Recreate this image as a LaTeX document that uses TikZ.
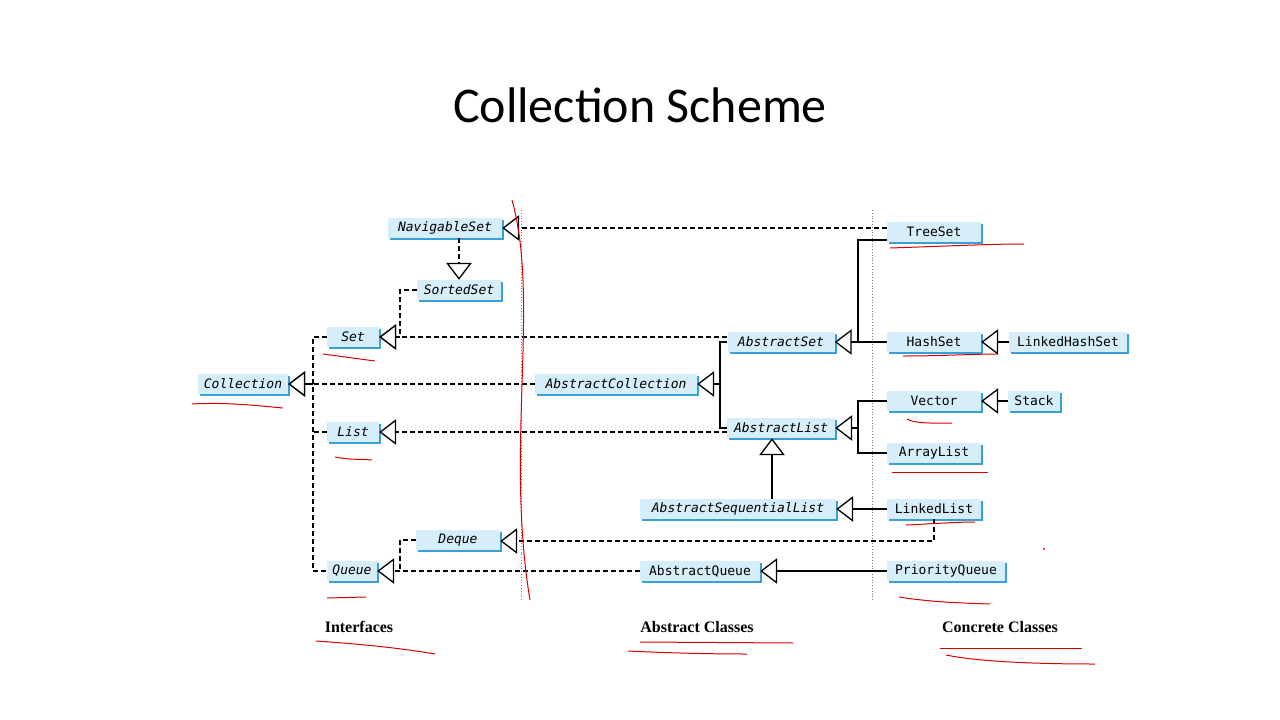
\documentclass[tikz,border=0pt]{standalone}
\usepackage{fontspec}
\setmainfont{Liberation Serif}
\newfontfamily\titlefont{Carlito}
\newfontfamily\boxfont{DejaVu Sans Mono}
\usetikzlibrary{arrows.meta,shadows}
\definecolor{boxfill}{HTML}{D6EEF9}
\definecolor{boxshadow}{HTML}{3A9FD6}
\begin{document}
\begin{tikzpicture}[x=1pt,y=-1pt,
  cls/.style={fill=boxfill,inner sep=0pt,minimum height=20pt,font=\boxfont\fontsize{13}{13}\selectfont,
     drop shadow={shadow xshift=2pt,shadow yshift=-2pt,fill=boxshadow,opacity=1}},
  ifc/.style={cls,font=\boxfont\itshape\fontsize{13}{13}\selectfont},
  tri/.style={-{Triangle[open,width=15pt,length=10pt,line width=1.3pt,fill=white,scale=1.7]}},
  dsh/.style={tri,dashed,dash pattern=on 5pt off 3pt,line width=1.1pt},
  sol/.style={tri,line width=1.3pt},
  dl/.style={dashed,dash pattern=on 5pt off 3pt,line width=1.1pt},
  sl/.style={line width=1.3pt},
  red/.style={draw=red!85!black,line width=1pt},
  lab/.style={font=\bfseries\fontsize{16}{16}\selectfont}]
\useasboundingbox (0,0) rectangle (1280,720);
\fill[white] (0,0) rectangle (1280,720);
\node (title) at (640,105) {\titlefont\fontsize{50}{50}\selectfont Collection Scheme};
% dotted separators
\draw[dotted,line width=0.8pt,gray] (521,210) -- (521,600);
\draw[dotted,line width=0.8pt,gray] (872,210) -- (872,600);
% nodes
\node[ifc,minimum width=114pt] (nav) at (445,228) {NavigableSet};
\node[ifc,minimum width=84pt] (sorted) at (459,290) {SortedSet};
\node[ifc,minimum width=52pt] (set) at (353,337) {Set};
\node[ifc,minimum width=90pt] (coll) at (243,384) {Collection};
\node[ifc,minimum width=52pt] (list) at (353,432) {List};
\node[ifc,minimum width=84pt] (deque) at (458,540) {Deque};
\node[ifc,minimum width=50pt] (queue) at (352,571) {Queue};
\node[ifc,minimum width=162pt] (acoll) at (616,384) {AbstractCollection};
\node[ifc,minimum width=107pt] (aset) at (781,342) {AbstractSet};
\node[ifc,minimum width=108pt] (alist) at (781,428) {AbstractList};
\node[ifc,minimum width=196pt] (aseq) at (738,509) {AbstractSequentialList};
\node[cls,minimum width=120pt] (aqueue) at (700,571) {AbstractQueue};
\node[cls,minimum width=94pt] (tree) at (934,232) {TreeSet};
\node[cls,minimum width=94pt] (hash) at (934,342) {HashSet};
\node[cls,minimum width=118pt] (lhash) at (1068,342) {LinkedHashSet};
\node[cls,minimum width=94pt] (vector) at (934,401) {Vector};
\node[cls,minimum width=52pt] (stack) at (1034,401) {Stack};
\node[cls,minimum width=94pt] (alst) at (934,453) {ArrayList};
\node[cls,minimum width=94pt] (llist) at (934,509) {LinkedList};
\node[cls,minimum width=118pt] (pq) at (946,571) {PriorityQueue};
% connectors
\draw[dsh] (tree.west |- nav.east) -- (nav.east);
\draw[dsh] (nav.south -| sorted) -- (sorted.north);
\draw[dsh] (sorted.west) -- (400,290) -- (400,337) -- (set.east);
\draw[dsh] (aset.west |- set.east) -- (set.east);
\draw[dl] (set.west) -- (313,337) -- (313,571) -- (queue.west);
\draw[dl] (list.west) -- (313,432);
\draw[dsh] (313,384) -- (coll.east);
\draw[dsh] (acoll.west) -- (coll.east);
\draw[dsh] (alist.west |- list.east) -- (list.east);
\draw[sl] (aset.west) -- (720,342) -- (720,428) -- (alist.west);
\draw[sol] (720,384) -- (acoll.east);
\draw[sl] (tree.west |- 0,240) -- (858,240) -- (858,342);
\draw[sol] (hash.west) -- (aset.east);
\draw[sol] (lhash.west) -- (hash.east);
\draw[sl] (vector.west) -- (858,401) -- (858,453) -- (alst.west);
\draw[sol] (858,428) -- (alist.east);
\draw[sol] (stack.west) -- (vector.east);
\draw[sol] (aseq.north -| 772,0) -- (alist.south -| 772,0);
\draw[sol] (llist.west) -- (aseq.east);
\draw[dsh] (llist.south) -- (934,541) -- (deque.east |- 0,541);
\draw[dl] (deque.west) -- (400,540) -- (400,571);
\draw[dsh] (aqueue.west) -- (queue.east);
\draw[sol] (pq.west) -- (aqueue.east);
% labels
\node[lab] (l1) at (359,627) {Interfaces};
\node[lab] (l2) at (697,627) {Abstract Classes};
\node[lab] (l3) at (1000,627) {Concrete Classes};
% red annotations
\draw[red] (512,200) .. controls (540,300) and (505,450) .. (530,600);
\draw[red] (192,404) .. controls (230,402) and (260,406) .. (283,408);
\draw[red] (323,354) .. controls (345,357) and (360,359) .. (375,361);
\draw[red] (335,457) .. controls (350,460) and (360,459) .. (372,460);
\draw[red] (327,598) -- (366,597);
\draw[red] (890,248) .. controls (950,246) and (990,244) .. (1024,244);
\draw[red] (903,356) .. controls (940,356) and (975,354) .. (997,354);
\draw[red] (907,419) .. controls (915,424) and (935,423) .. (952,423);
\draw[red] (892,472) -- (988,472);
\draw[red] (906,525) .. controls (930,524) and (955,522) .. (975,522);
\draw[red] (899,597) .. controls (930,602) and (960,603) .. (990,604);
\draw[red] (316,641) .. controls (360,644) and (400,648) .. (435,654);
\draw[red] (640,642) -- (793,643);
\draw[red] (628,651) .. controls (670,653) and (710,654) .. (747,654);
\draw[red] (940,648) -- (1082,648);
\draw[red] (946,655) .. controls (980,662) and (1040,664) .. (1095,664);
\fill[red!85!black] (1044,549) circle (1.2pt);
\end{tikzpicture}
\end{document}
